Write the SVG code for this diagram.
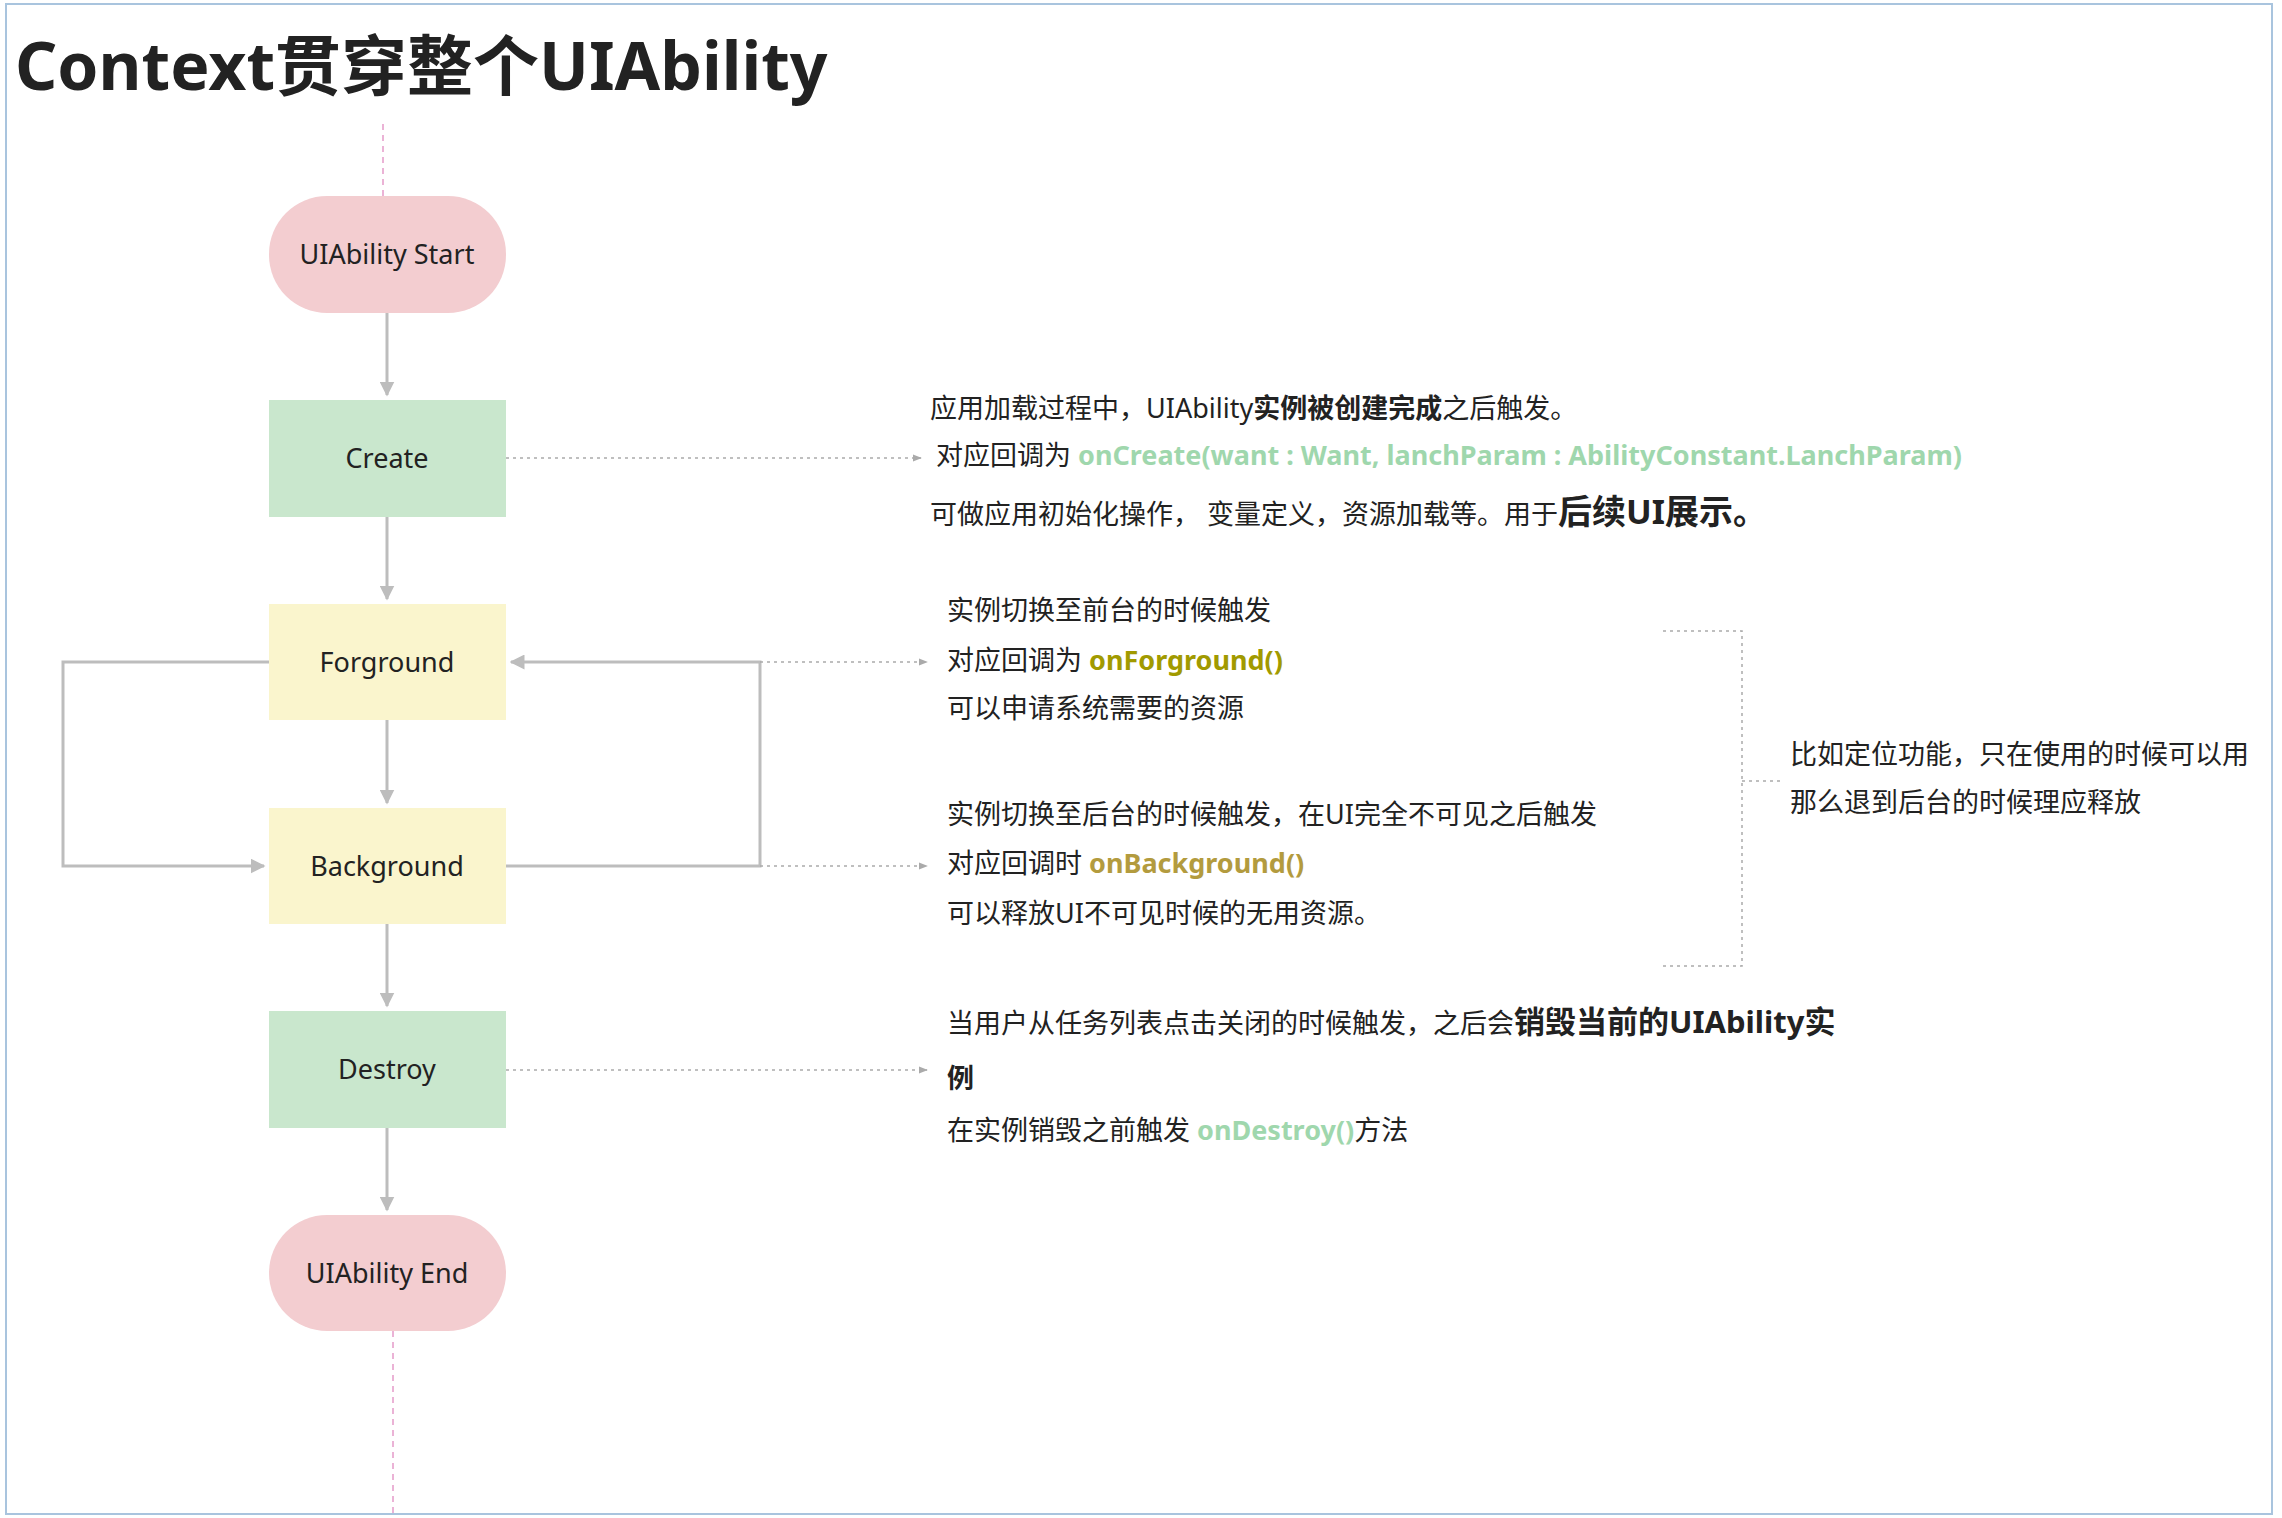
<svg xmlns="http://www.w3.org/2000/svg" width="2282" height="1518" viewBox="0 0 2282 1518">
<style>
text{font-family:"Noto Sans","Noto Sans CJK SC",sans-serif;fill:#222}
.n{font-size:27px;text-anchor:middle}
.t{font-size:27px}
.b{font-weight:bold}
.solid{stroke:#bdbdbd;stroke-width:3;fill:none}
.dot{stroke:#aaa;stroke-width:1.5;stroke-dasharray:3 4;fill:none}
.pink{stroke:#e59ac9;stroke-width:1.5;stroke-dasharray:6 5;fill:none}
</style>
<defs>
<marker id="a" viewBox="0 0 10 10" refX="9" refY="5" markerWidth="5" markerHeight="5" orient="auto"><path d="M0,0L10,5L0,10z" fill="#bdbdbd"/></marker>
<marker id="d" viewBox="0 0 10 10" refX="9" refY="5" markerWidth="9" markerHeight="9" orient="auto" markerUnits="userSpaceOnUse"><path d="M0,1L10,5L0,9z" fill="#aaa"/></marker>
</defs>
<rect x="6" y="4" width="2266" height="1510" fill="#fff" stroke="#a9c4de" stroke-width="2"/>
<text x="15" y="90" font-size="66" class="b" style="font-weight:bold">Context贯穿整个UIAbility</text>
<g id="connectors">
<path class="pink" d="M383,124V196"/>
<path class="pink" d="M393,1331V1514"/>
<path class="solid" d="M387,313V395" marker-end="url(#a)"/>
<path class="solid" d="M387,517V599" marker-end="url(#a)"/>
<path class="solid" d="M387,720V803" marker-end="url(#a)"/>
<path class="solid" d="M387,924V1006" marker-end="url(#a)"/>
<path class="solid" d="M387,1128V1210" marker-end="url(#a)"/>
<path class="solid" d="M269,662H63V866H264" marker-end="url(#a)"/>
<path class="solid" d="M506,866H760V662H511" marker-end="url(#a)"/>
<path class="dot" d="M506,458H921" marker-end="url(#d)"/>
<path class="dot" d="M760,662H927" marker-end="url(#d)"/>
<path class="dot" d="M760,866H927" marker-end="url(#d)"/>
<path class="dot" d="M506,1070H927" marker-end="url(#d)"/>
<path class="dot" d="M1663,631H1742V966H1663M1742,781H1783"/>
</g>
<g id="start"><rect x="269" y="196" width="237" height="117" rx="58" fill="#f3cdd0"/><text class="n" x="387" y="264">UIAbility Start</text></g>
<g id="create"><rect x="269" y="400" width="237" height="117" fill="#c9e7cd"/><text class="n" x="387" y="468">Create</text></g>
<g id="forground"><rect x="269" y="604" width="237" height="116" fill="#faf5cd"/><text class="n" x="387" y="672">Forground</text></g>
<g id="background"><rect x="269" y="808" width="237" height="116" fill="#faf5cd"/><text class="n" x="387" y="876">Background</text></g>
<g id="destroy"><rect x="269" y="1011" width="237" height="117" fill="#c9e7cd"/><text class="n" x="387" y="1079">Destroy</text></g>
<g id="end"><rect x="269" y="1215" width="237" height="116" rx="58" fill="#f3cdd0"/><text class="n" x="387" y="1283">UIAbility End</text></g>
<g id="create-note">
<text class="t" x="930" y="418">应用加载过程中，UIAbility<tspan class="b">实例被创建完成</tspan>之后触发。</text>
<text class="t" x="936" y="465">对应回调为 <tspan class="b" fill="#9fd7ad" style="fill:#9fd7ad">onCreate(want : Want, lanchParam : AbilityConstant.LanchParam)</tspan></text>
<text class="t" x="930" y="524">可做应用初始化操作， 变量定义，资源加载等。用于<tspan class="b" font-size="34">后续UI展示。</tspan></text>
</g>
<g id="forground-note">
<text class="t" x="947" y="620">实例切换至前台的时候触发</text>
<text class="t" x="947" y="670">对应回调为 <tspan class="b" style="fill:#a19a00">onForground()</tspan></text>
<text class="t" x="947" y="718">可以申请系统需要的资源</text>
</g>
<g id="background-note">
<text class="t" x="947" y="824">实例切换至后台的时候触发，在UI完全不可见之后触发</text>
<text class="t" x="947" y="873">对应回调时 <tspan class="b" style="fill:#b39b3e">onBackground()</tspan></text>
<text class="t" x="947" y="923">可以释放UI不可见时候的无用资源。</text>
</g>
<g id="destroy-note">
<text class="t" x="947" y="1033">当用户从任务列表点击关闭的时候触发，之后会<tspan class="b" font-size="31">销毁当前的UIAbility实</tspan></text>
<text class="t b" x="947" y="1088" font-size="31">例</text>
<text class="t" x="947" y="1140">在实例销毁之前触发 <tspan class="b" style="fill:#9fd7ad">onDestroy()</tspan>方法</text>
</g>
<g id="side-note">
<text class="t" x="1790" y="764">比如定位功能，只在使用的时候可以用</text>
<text class="t" x="1790" y="812">那么退到后台的时候理应释放</text>
</g>
</svg>
